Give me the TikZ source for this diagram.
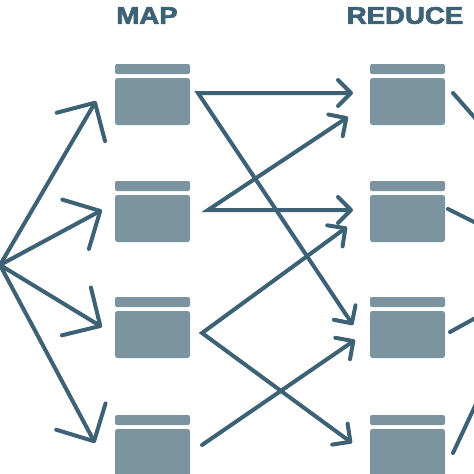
\documentclass[tikz,border=0pt]{standalone}
\usepackage{fontspec}
\setmainfont{Liberation Sans}
\newfontfamily\titlefont{Liberation Sans Bold}[FakeBold=2.5]
\usetikzlibrary{arrows.meta}
\definecolor{boxc}{HTML}{7B949F}
\definecolor{arrc}{HTML}{3E6275}
\begin{document}
\begin{tikzpicture}[x=1pt,y=-1pt,line width=4pt,
  winbody/.style={fill=boxc,draw=none,rounded corners=2.5pt,minimum width=75pt,minimum height=47pt,inner sep=0pt,anchor=north west},
  winbar/.style={fill=boxc,draw=none,rounded corners=2pt,minimum width=75pt,minimum height=10pt,inner sep=0pt,anchor=north west},
  bigarrow/.style={draw=arrc,line cap=round,-{Straight Barb[length=28pt,width=56pt,round]}},
  smallarrow/.style={draw=arrc,line cap=round,line join=miter,{Straight Barb[length=13pt,width=26pt,round]}-{Straight Barb[length=13pt,width=26pt,round]}},
  oneway/.style={draw=arrc,line cap=round,-{Straight Barb[length=13pt,width=26pt,round]}},
  outline/.style={draw=arrc,line cap=round},
  title/.style={text=arrc,font=\titlefont\fontsize{24}{24}\selectfont,inner sep=0pt}]
\useasboundingbox (0,0) rectangle (474,474);
\clip (0,0) rectangle (474,474);
% titles
\node[title] (maptitle) at (147,15.5) {\scalebox{1.15}[1]{MAP}};
\node[title] (redtitle) at (405,15.5) {\scalebox{1.15}[1]{REDUCE}};
% windows
\foreach \i/\t in {1/62,2/179,3/295,4/413}{
  \node[winbar] (mbar\i) at (113,\t) {};
  \node[winbody] (m\i) at (113,\t+14) {};
  \node[winbar] (rbar\i) at (368,\t) {};
  \node[winbody] (r\i) at (368,\t+14) {};
}
% left fan
\coordinate (o) at (0,265);
\coordinate (l1) at (96,101);
\coordinate (l2) at (102,210);
\coordinate (l3) at (102,327);
\coordinate (l4) at (95,443);
\foreach \k in {1,...,4}{ \draw[bigarrow] (o) -- (l\k); }
% middle arrows
\coordinate (va) at (198,93);
\coordinate (ta1) at (353,93);
\coordinate (ta2) at (353,325);
\draw[smallarrow] (ta1) -- (va) -- (ta2);
\coordinate (vb) at (208,210);
\coordinate (tb1) at (348,117);
\coordinate (tb2) at (353,210);
\draw[smallarrow] (tb1) -- (vb) -- (tb2);
\coordinate (vc) at (202,333);
\coordinate (tc1) at (347,227);
\coordinate (tc2) at (352,443);
\draw[smallarrow] (tc1) -- (vc) -- (tc2);
\coordinate (vd) at (202,445);
\coordinate (td) at (355,340);
\draw[oneway] (vd) -- (td);
% right lines leaving the picture
\coordinate (s1) at (453,93);  \coordinate (e1) at (490,135);
\coordinate (s2) at (448,209); \coordinate (e2) at (490,230);
\coordinate (s3) at (450,332); \coordinate (e3) at (490,310);
\coordinate (s4) at (453,453); \coordinate (e4) at (490,374);
\foreach \k in {1,...,4}{ \draw[outline] (s\k) -- (e\k); }
\end{tikzpicture}
\end{document}
